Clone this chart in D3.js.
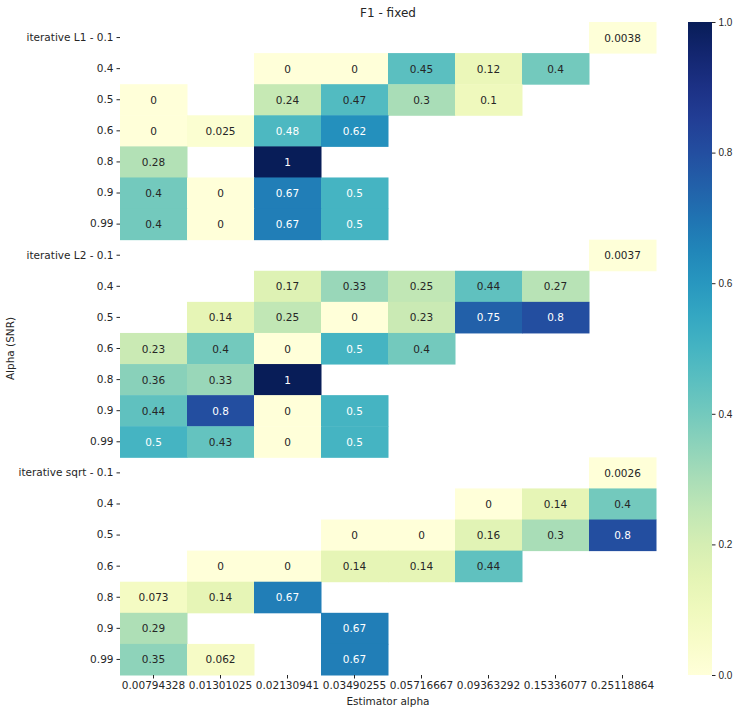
<!DOCTYPE html>
<html><head><meta charset="utf-8">
<script src="https://cdn.jsdelivr.net/npm/d3@7"></script>
<style>body{margin:0;background:#fff;font-family:"DejaVu Sans",sans-serif}</style>
</head><body><svg id="c" width="750" height="713"></svg>
<script>
'use strict';
var colLabels = ['0.00794328','0.01301025','0.02130941','0.03490255','0.05716667','0.09363292','0.15336077','0.25118864'];
var rowLabels = ['iterative L1 - 0.1','0.4','0.5','0.6','0.8','0.9','0.99',
  'iterative L2 - 0.1','0.4','0.5','0.6','0.8','0.9','0.99',
  'iterative sqrt - 0.1','0.4','0.5','0.6','0.8','0.9','0.99'];
var N = null;
var values = [
  [N,N,N,N,N,N,N,0.0038],
  [N,N,0,0,0.45,0.12,0.4,N],
  [0,N,0.24,0.47,0.3,0.1,N,N],
  [0,0.025,0.48,0.62,N,N,N,N],
  [0.28,N,1,N,N,N,N,N],
  [0.4,0,0.67,0.5,N,N,N,N],
  [0.4,0,0.67,0.5,N,N,N,N],
  [N,N,N,N,N,N,N,0.0037],
  [N,N,0.17,0.33,0.25,0.44,0.27,N],
  [N,0.14,0.25,0,0.23,0.75,0.8,N],
  [0.23,0.4,0,0.5,0.4,N,N,N],
  [0.36,0.33,1,N,N,N,N,N],
  [0.44,0.8,0,0.5,N,N,N,N],
  [0.5,0.43,0,0.5,N,N,N,N],
  [N,N,N,N,N,N,N,0.0026],
  [N,N,N,N,N,0,0.14,0.4],
  [N,N,N,0,0,0.16,0.3,0.8],
  [N,0,0,0.14,0.14,0.44,N,N],
  [0.073,0.14,0.67,N,N,N,N,N],
  [0.29,N,N,0.67,N,N,N,N],
  [0.35,0.062,N,0.67,N,N,N,N]
];
var cbTicks = [0,0.2,0.4,0.6,0.8,1.0];

var svg = d3.select('#c');
var pL = 120, pR = 656, pT = 22, pB = 675;
var x = d3.scaleBand().domain(d3.range(colLabels.length)).range([pL,pR]);
var y = d3.scaleBand().domain(d3.range(rowLabels.length)).range([pT,pB]);
var color = d3.scaleSequential(d3.interpolateYlGnBu).domain([0,1]);

function lum(c){
  var r = d3.rgb(c);
  return [r.r,r.g,r.b].map(function(v){v/=255;return v<=0.03928?v/12.92:Math.pow((v+0.055)/1.055,2.4)})
    .reduce(function(a,v,i){return a+v*[0.2126,0.7152,0.0722][i]},0);
}

var cells = [];
values.forEach(function(row,i){row.forEach(function(v,j){if(v!==null)cells.push({i:i,j:j,v:v})})});

svg.selectAll('rect.cell').data(cells).enter().append('rect')
  .attr('x',d=>x(d.j)).attr('y',d=>y(d.i))
  .attr('width',x.bandwidth()+0.5).attr('height',y.bandwidth()+0.5)
  .attr('fill',d=>color(d.v));
svg.selectAll('text.val').data(cells).enter().append('text')
  .attr('x',d=>x(d.j)+x.bandwidth()/2).attr('y',d=>y(d.i)+y.bandwidth()/2)
  .attr('text-anchor','middle').attr('dominant-baseline','central')
  .attr('font-size',10.5)
  .attr('fill',d=>lum(color(d.v))>0.408?'#262626':'#fff')
  .text(d=>d.v);

var xa = svg.append('g').attr('transform','translate(0,'+pB+')')
  .call(d3.axisBottom(x).tickFormat(i=>colLabels[i]).tickSize(3.5));
var ya = svg.append('g').attr('transform','translate('+pL+',0)')
  .call(d3.axisLeft(y).tickFormat(i=>rowLabels[i]).tickSize(3.5));
[xa,ya].forEach(function(a){
  a.select('.domain').remove();
  a.selectAll('text').attr('font-size',10.5).attr('fill','#262626').attr('font-family','DejaVu Sans');
  a.selectAll('line').attr('stroke','#262626');
});

svg.append('text').attr('x',(pL+pR)/2).attr('y',17).attr('text-anchor','middle')
  .attr('font-size',12).attr('fill','#262626').text('F1 - fixed');
svg.append('text').attr('x',(pL+pR)/2).attr('y',705).attr('text-anchor','middle')
  .attr('font-size',10.5).attr('fill','#262626').text('Estimator alpha');
svg.append('text').attr('transform','translate(14,'+((pT+pB)/2)+') rotate(-90)')
  .attr('text-anchor','middle').attr('font-size',10.5).attr('fill','#262626').text('Alpha (SNR)');

// colorbar
var cbx = 688, cbw = 24;
var cy = d3.scaleLinear().domain([0,1]).range([pB,pT]);
var grad = svg.append('defs').append('linearGradient').attr('id','g').attr('x1',0).attr('y1',1).attr('x2',0).attr('y2',0);
d3.range(0,1.001,0.05).forEach(function(t){grad.append('stop').attr('offset',t).attr('stop-color',color(t))});
svg.append('rect').attr('x',cbx).attr('y',pT).attr('width',cbw).attr('height',pB-pT).attr('fill','url(#g)');
var ca = svg.append('g').attr('transform','translate('+(cbx+cbw)+',0)')
  .call(d3.axisRight(cy).tickValues(cbTicks).tickFormat(d3.format('.1f')).tickSize(3.5));
ca.select('.domain').remove();
ca.selectAll('text').attr('font-size',10).attr('fill','#262626');
ca.selectAll('line').attr('stroke','#262626');
</script></body></html>
